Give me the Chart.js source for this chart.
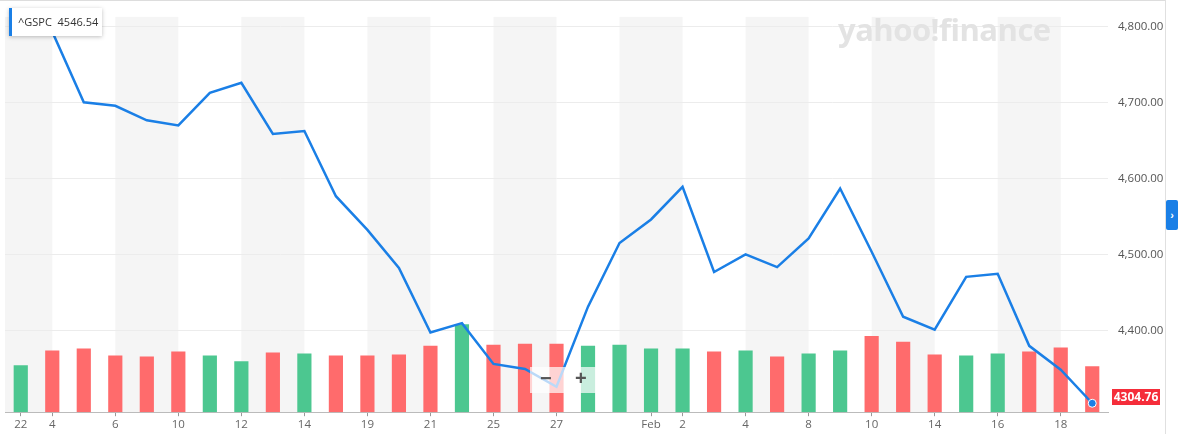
<!DOCTYPE html>
<html><head><meta charset="utf-8">
<script src="https://cdn.jsdelivr.net/npm/chart.js@4/dist/chart.umd.min.js"></script>
<style>
body{margin:0;background:#fff;font-family:"Open Sans",Arial,sans-serif;}
#wrap{position:relative;width:1182px;height:434px;overflow:hidden;}
#cw{position:absolute;left:0;top:0;width:1165px;height:434px;}
.tip{position:absolute;left:9px;top:8px;width:93px;height:28px;background:#fff;box-shadow:0 1px 4px rgba(0,0,0,.25);border-left:3px solid #1a7fe6;font-size:11px;color:#333;line-height:28px;padding-left:6px;box-sizing:border-box;white-space:nowrap;}
.wm{position:absolute;left:838px;top:8px;font:bold 31px "Open Sans",Arial,sans-serif;color:#e3e3e3;letter-spacing:-0.5px;}
.zoom{position:absolute;left:530px;top:367px;width:70px;height:26px;background:rgba(255,255,255,.7);font:bold 20px Arial;color:#555;}
.price{position:absolute;left:1112px;top:389px;width:48px;height:16px;background:#f52d3a;color:#fff;font:bold 12px "Open Sans",Arial;line-height:16px;text-align:center;}
.tab{position:absolute;left:1166px;top:200px;width:12px;height:30px;background:#1a7fe6;border-radius:2px;color:#fff;font:bold 11px Arial;text-align:center;line-height:30px;}
.rb{position:absolute;left:1165px;top:0;width:1px;height:434px;background:#e0e0e0;}
.topb{position:absolute;left:0;top:0;width:1165px;height:1px;background:#ddd;}
</style></head><body>
<div id="wrap"><div id="cw"><canvas id="c" width="1165" height="434"></canvas></div>
<div class="topb"></div><div class="rb"></div>
<div class="wm">yahoo!finance</div>
<div class="tip">^GSPC&nbsp; 4546.54</div>
<div class="zoom"><span style="position:absolute;left:10px;top:0">−</span><span style="position:absolute;left:45px;top:0">+</span></div>
<div class="price">4304.76</div>
<div class="tab">›</div>
</div>
<script>
const dates=["Jan 3","Jan 4","Jan 5","Jan 6","Jan 7","Jan 10","Jan 11","Jan 12","Jan 13","Jan 14","Jan 18","Jan 19","Jan 20","Jan 21","Jan 24","Jan 25","Jan 26","Jan 27","Jan 28","Jan 31","Feb 1","Feb 2","Feb 3","Feb 4","Feb 7","Feb 8","Feb 9","Feb 10","Feb 11","Feb 14","Feb 15","Feb 16","Feb 17","Feb 18","Feb 22"];
const tickLabels={0:"22",1:"4",3:"6",5:"10",7:"12",9:"14",11:"19",13:"21",15:"25",17:"27",20:"Feb",21:"2",23:"4",25:"8",27:"10",29:"14",31:"16",33:"18"};
const closes=[4796.56,4793.54,4700.58,4696.05,4677.03,4670.29,4713.07,4726.35,4659.03,4662.85,4577.11,4532.76,4482.73,4397.94,4410.13,4356.45,4349.93,4326.51,4431.85,4515.55,4546.54,4589.38,4477.44,4500.53,4483.87,4521.54,4587.18,4504.08,4418.64,4401.67,4471.07,4475.01,4380.26,4348.87,4304.76];
const volumes=[2.40,3.15,3.25,2.90,2.85,3.10,2.90,2.60,3.05,3.00,2.90,2.90,2.95,3.40,4.50,3.45,3.50,3.50,3.40,3.45,3.25,3.25,3.10,3.15,2.85,3.00,3.15,3.90,3.60,2.95,2.90,3.00,3.10,3.30,2.35];
const volUp=[1,0,0,0,0,0,1,1,0,1,0,0,0,0,1,0,0,0,1,1,1,1,0,1,0,1,1,0,0,0,1,1,0,0,0];
const greyBands=[[-1,1],[3,5],[7,9],[11,13],[15,17],[19,21],[23,25],[27,29],[31,33]];
const bands={id:'bands',beforeDraw(ch){const {ctx,chartArea:a,scales:{x}}=ch;const step=x.getPixelForValue(1)-x.getPixelForValue(0);const x0=x.getPixelForValue(0);ctx.save();ctx.fillStyle='#f5f5f5';
for(const [s,e] of greyBands){let l=Math.max(a.left,x0+s*step),r=x0+e*step;ctx.fillRect(l,a.top,r-l,a.bottom-a.top);}ctx.restore();}};
new Chart(document.getElementById('c'),{
data:{labels:dates,datasets:[
{type:'line',data:closes,yAxisID:'y',borderColor:'#1a7fe6',borderWidth:2.5,tension:0,
 pointRadius:closes.map((v,i)=>i===closes.length-1?4:0),pointBackgroundColor:'#1a7fe6',pointBorderColor:'#fff',pointBorderWidth:1,order:0,clip:false},
{type:'bar',data:volumes,yAxisID:'v',backgroundColor:volUp.map(u=>u?'#4cc790':'#ff6b6c'),barPercentage:0.45,categoryPercentage:1,order:1}
]},
options:{responsive:false,animation:false,devicePixelRatio:1,
 layout:{padding:{top:0,bottom:0,left:0,right:0}},
 plugins:{legend:{display:false},tooltip:{enabled:false}},
 scales:{
  x:{offset:true,grid:{offset:false,drawOnChartArea:false,tickLength:4,color:(c)=>tickLabels[c.index]!==undefined?'#999':'transparent'},border:{color:'#bbb'},
     ticks:{autoSkip:false,maxRotation:0,padding:2,color:'#666',font:{size:11.5,family:'Open Sans'},callback:(v,i)=>tickLabels[i]??''}},
  y:{position:'right',min:4293,max:4813,afterBuildTicks:(s)=>{s.ticks=[4400,4500,4600,4700,4800].map(v=>({value:v}));},
     afterFit:(s)=>{s.width=57;},grid:{color:'#ececec',drawTicks:false},border:{display:false},
     ticks:{padding:10,color:'#555',font:{size:11.5,family:'Open Sans'},callback:v=>v.toLocaleString('en-US',{minimumFractionDigits:2})}},
  v:{display:false,min:0,max:20.2}
 }},
plugins:[bands]});
</script></body></html>
